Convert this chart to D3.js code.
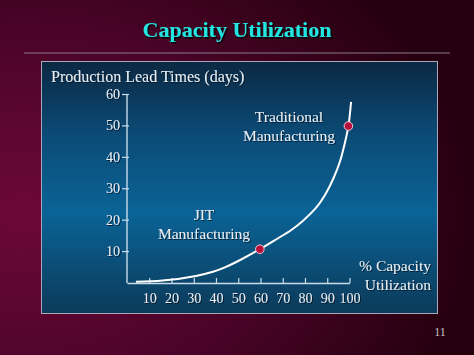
<!DOCTYPE html>
<html>
<head>
<meta charset="utf-8">
<script src="https://cdn.jsdelivr.net/npm/d3@7"></script>
<style>
  html, body { margin: 0; padding: 0; background: #2a0016; }
  svg { display: block; }
</style>
</head>
<body>
<svg id="chart" width="474" height="355"></svg>
<script>
// Curve: % capacity utilization vs lead time (days)
const utilization = [4, 16, 31, 39, 44, 51.5, 59.7, 66.5, 74, 79, 85, 89.5, 93, 95.7, 97.7, 99.5, 100.7];
const leadTime = [0.25, 0.6, 2.1, 3.5, 4.8, 7.4, 10.6, 13.5, 16.8, 19.6, 23.8, 28.5, 33.5, 38.5, 43.8, 49.8, 57.5];

// Highlighted points
const markers = [
  { name: 'JIT', x: 59.7, y: 10.6 },
  { name: 'Traditional', x: 99.5, y: 49.8 }
];

const xTicks = [10, 20, 30, 40, 50, 60, 70, 80, 90, 100];
const yTicks = [10, 20, 30, 40, 50, 60];

const svg = d3.select('#chart');
const W = 474, H = 355;
const serif = '"Liberation Serif", "Times New Roman", serif';

const defs = svg.append('defs');

// Maroon slide background
const bg = defs.append('radialGradient')
  .attr('id', 'bg')
  .attr('cx', 0.05).attr('cy', 0.6).attr('r', 0.95);
bg.append('stop').attr('offset', '0%').attr('stop-color', '#6c0838');
bg.append('stop').attr('offset', '55%').attr('stop-color', '#4a0428');
bg.append('stop').attr('offset', '100%').attr('stop-color', '#26000f');

// Blue chart panel
const panel = defs.append('linearGradient')
  .attr('id', 'panel')
  .attr('x1', 0).attr('y1', 0).attr('x2', 0).attr('y2', 1);
panel.append('stop').attr('offset', '0%').attr('stop-color', '#0b2843');
panel.append('stop').attr('offset', '30%').attr('stop-color', '#0b4c78');
panel.append('stop').attr('offset', '60%').attr('stop-color', '#0a6396');
panel.append('stop').attr('offset', '100%').attr('stop-color', '#0c3a5a');

// Drop shadows for text
defs.append('filter').attr('id', 'titleShadow')
  .append('feDropShadow')
  .attr('dx', 1.5).attr('dy', 1.5).attr('stdDeviation', 0.6)
  .attr('flood-color', '#000000').attr('flood-opacity', 0.9);
defs.append('filter').attr('id', 'textShadow')
  .append('feDropShadow')
  .attr('dx', 1).attr('dy', 1).attr('stdDeviation', 0.5)
  .attr('flood-color', '#041220').attr('flood-opacity', 0.75);

svg.append('rect').attr('width', W).attr('height', H).attr('fill', 'url(#bg)');

// Title
svg.append('text')
  .attr('x', 237).attr('y', 37)
  .attr('text-anchor', 'middle')
  .attr('font-family', serif).attr('font-weight', 'bold').attr('font-size', 22)
  .attr('fill', '#22e4e0')
  .attr('filter', 'url(#titleShadow)')
  .text('Capacity Utilization');

svg.append('line')
  .attr('x1', 24).attr('x2', 450).attr('y1', 53).attr('y2', 53)
  .attr('stroke', '#8a7a92').attr('stroke-width', 1.2);

svg.append('rect')
  .attr('x', 41.5).attr('y', 61.5).attr('width', 396).attr('height', 252)
  .attr('fill', 'url(#panel)')
  .attr('stroke', '#a8a8b8').attr('stroke-width', 1);

// Scales
const x = d3.scaleLinear().domain([0, 100]).range([127, 349.5]);
const y = d3.scaleLinear().domain([0, 60]).range([282.5, 94]);

const axisColor = '#c8dcea';

const xAxis = svg.append('g')
  .attr('transform', 'translate(0,283)')
  .call(d3.axisBottom(x).tickValues(xTicks).tickSizeInner(-5).tickSizeOuter(0).tickPadding(10.5));

const yAxis = svg.append('g')
  .attr('transform', 'translate(127,0)')
  .call(d3.axisLeft(y).tickValues(yTicks).tickSizeInner(5).tickSizeOuter(0).tickPadding(2));

// extend y domain line down to x axis
yAxis.select('.domain').attr('d', `M0,${y(60)}V283`);

[xAxis, yAxis].forEach(a => {
  a.select('.domain').attr('stroke', axisColor).attr('stroke-width', 1.4);
  a.selectAll('.tick line').attr('stroke', axisColor).attr('stroke-width', 1.2);
  a.selectAll('.tick text')
    .attr('fill', '#e4ecf2')
    .attr('font-family', serif)
    .attr('font-size', 14)
    .attr('filter', 'url(#textShadow)');
});
yAxis.selectAll('.tick line').attr('x2', 2).attr('x1', -5);

// Curve
const pts = utilization.map((u, i) => [u, leadTime[i]]);
const line = d3.line()
  .x(d => x(d[0]))
  .y(d => y(d[1]))
  .curve(d3.curveCatmullRom.alpha(0.5));

svg.append('path')
  .datum(pts)
  .attr('d', line)
  .attr('fill', 'none')
  .attr('stroke', '#ffffff')
  .attr('stroke-width', 2);

svg.selectAll('.marker')
  .data(markers)
  .join('circle')
  .attr('class', 'marker')
  .attr('cx', d => x(d.x))
  .attr('cy', d => y(d.y))
  .attr('r', 4.3)
  .attr('fill', '#b8103c')
  .attr('stroke', '#f0c8d4')
  .attr('stroke-width', 1);

// Labels
function label(txt, lx, ly, anchor, size) {
  svg.append('text')
    .attr('x', lx).attr('y', ly)
    .attr('text-anchor', anchor)
    .attr('font-family', serif).attr('font-size', size)
    .attr('fill', '#e6eef4')
    .attr('filter', 'url(#textShadow)')
    .text(txt);
}

label('Production Lead Times (days)', 51, 82, 'start', 16);
label('Traditional', 289, 122, 'middle', 15.5);
label('Manufacturing', 289, 141, 'middle', 15.5);
label('JIT', 204, 220, 'middle', 15.5);
label('Manufacturing', 204, 239, 'middle', 15.5);
label('% Capacity', 431, 271, 'end', 15.5);
label('Utilization', 431, 290, 'end', 15.5);

svg.append('text')
  .attr('x', 440).attr('y', 336)
  .attr('text-anchor', 'middle')
  .attr('font-family', serif).attr('font-size', 12)
  .attr('fill', '#c8c0c8')
  .text('11');
</script>
</body>
</html>
